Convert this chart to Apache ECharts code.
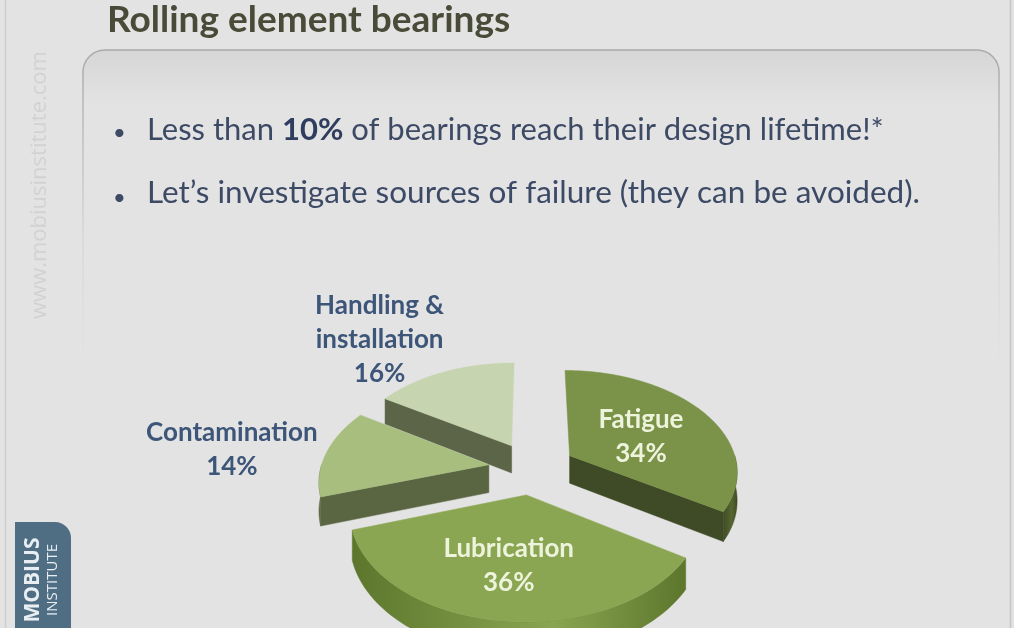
<!DOCTYPE html>
<html>
<head>
<meta charset="utf-8">
<script src="https://cdn.jsdelivr.net/npm/echarts@6/dist/echarts.min.js"></script>
<style>
html,body{margin:0;padding:0;background:#e3e3e3;}
#c{width:1014px;height:628px;}
</style>
</head>
<body>
<div id="c"></div>
<script>
// ---- data ----
const categories = ['Fatigue', 'Lubrication', 'Contamination', 'Handling &\ninstallation'];
const values = [34, 36, 14, 16];

// ---- geometry / style (not data) ----
const CX = 532, CY = 468, RX = 168, RY = 100.5, E = 0.142, H = 28, EXPLODE = 0.26;
const topColors  = ['#7b9349', '#8aa652', '#a7be7e', '#c6d4b0'];
const sideColors = ['#3f4b26', '#5c772c', '#5a6642', '#5c6548'];
const sideLight  = ['#56662f', '#8aa551', '#6b7850', '#6a7356'];

const total = values.reduce((a, b) => a + b, 0);
const cum = [];
values.reduce((acc, v, i) => { cum[i] = acc; return acc + v; }, 0);

function proj(X, Z, drop) {
  const p = 1 / (1 - E * Z);
  return [CX + RX * X * p, CY + (RY * Z + drop) * p];
}

function renderItem(params, api) {
  const i = params.dataIndex;
  const v = api.value(0);
  const a = cum[i] / total * Math.PI * 2;
  const b = (cum[i] + v) / total * Math.PI * 2;
  const m = (a + b) / 2;
  const ax = EXPLODE * Math.sin(m), az = -EXPLODE * Math.cos(m);
  const rim = (t, r) => [ax + (r == null ? 1 : r) * Math.sin(t), az - (r == null ? 1 : r) * Math.cos(t)];
  const depth = Math.round((az + 1) * 100) * 10;
  const children = [];

  // cut faces
  [[a, a - Math.PI / 2], [b, b + Math.PI / 2]].forEach(([t, n]) => {
    if (Math.cos(n) < -0.01) {
      const R = rim(t);
      const pts = [proj(ax, az, 0), proj(R[0], R[1], 0), proj(R[0], R[1], H), proj(ax, az, H)];
      children.push({ type: 'polygon', z2: depth + 1, shape: { points: pts },
        style: { fill: sideColors[i], stroke: sideColors[i], lineWidth: 0.5 } });
    }
  });

  // outer curved side
  const s = Math.max(a, Math.PI / 2), e = Math.min(b, Math.PI * 1.5);
  if (e > s) {
    const top = [], bot = [];
    const n = 60;
    for (let k = 0; k <= n; k++) {
      const t = s + (e - s) * k / n;
      const R = rim(t);
      top.push(proj(R[0], R[1], 0));
      bot.unshift(proj(R[0], R[1], H));
    }
    children.push({ type: 'polygon', z2: depth + 2, shape: { points: top.concat(bot) },
      style: {
        fill: new echarts.graphic.LinearGradient(0, 0, 1, 0, [
          { offset: 0, color: sideColors[i] },
          { offset: 0.6, color: sideLight[i] },
          { offset: 1, color: sideColors[i] }
        ]),
        stroke: sideColors[i], lineWidth: 0.5
      } });
  }

  // top face
  const tp = [proj(ax, az, 0)];
  const n2 = 90;
  for (let k = 0; k <= n2; k++) {
    const t = a + (b - a) * k / n2;
    const R = rim(t);
    tp.push(proj(R[0], R[1], 0));
  }
  children.push({ type: 'polygon', z2: depth + 3, shape: { points: tp },
    style: { fill: topColors[i], stroke: topColors[i], lineWidth: 0.5 } });

  // label
  const name = categories[i];
  const pct = Math.round(v / total * 100) + '%';
  if (v >= 20) {
    const L = rim(m, 0.55);
    const P = proj(L[0], L[1], 0);
    children.push({ type: 'text', z2: 5000, x: P[0] - 4, y: P[1] + 6,
      style: { text: name + '\n' + pct, fill: '#eef3dc', font: 'bold 26px Lato', align: 'center',
        verticalAlign: 'middle', lineHeight: 34 } });
  } else {
    const R = rim(m);
    const P = proj(R[0], R[1], 0);
    const dx = Math.sin(m) * RX, dy = -Math.cos(m) * RY;
    const len = Math.hypot(dx, dy);
    children.push({ type: 'text', z2: 5000, x: P[0] + dx / len * 95, y: P[1] + dy / len * 44,
      style: { text: name + '\n' + pct, fill: '#3c5578', font: 'bold 26px Lato', align: 'center',
        verticalAlign: 'middle', lineHeight: 34 } });
  }
  return { type: 'group', children };
}

const chart = echarts.init(document.getElementById('c'));
chart.setOption({
  backgroundColor: '#e3e3e3',
  animation: false,
  graphic: [
    { type: 'line', shape: { x1: 5.5, y1: 0, x2: 5.5, y2: 628 }, style: { stroke: '#cdcdcd', lineWidth: 1.5 } },
    { type: 'line', shape: { x1: 1010.5, y1: 0, x2: 1010.5, y2: 628 }, style: { stroke: '#c4c4c4', lineWidth: 1.5 } },
    { type: 'rect', shape: { x: 83, y: 50, width: 916, height: 640, r: 22 },
      style: {
        fill: new echarts.graphic.LinearGradient(0, 0, 0, 1, [
          { offset: 0, color: '#d6d6d6' }, { offset: 0.09, color: '#e3e3e3' }, { offset: 1, color: '#e3e3e3' }
        ]),
        stroke: new echarts.graphic.LinearGradient(0, 0, 0, 1, [
          { offset: 0, color: '#a9a9a9' }, { offset: 0.3, color: '#d8d8d8' }, { offset: 0.5, color: '#e3e3e3' }
        ]),
        lineWidth: 1.5
      } },
    { type: 'text', x: 107, y: 20, style: { text: 'Rolling element bearings', font: 'bold 37px Lato',
        fill: '#4a4a38', verticalAlign: 'middle' } },
    { type: 'text', x: 113, y: 133, style: { text: '•', font: '22px Lato', fill: '#3d4a66', verticalAlign: 'middle' } },
    { type: 'text', x: 113, y: 198, style: { text: '•', font: '22px Lato', fill: '#3d4a66', verticalAlign: 'middle' } },
    { type: 'text', x: 147, y: 130, style: {
        text: '{a|Less than }{b|10%}{a| of bearings reach their design lifetime!*}',
        verticalAlign: 'middle',
        rich: {
          a: { font: '31px Lato', fill: '#3d4a66' },
          b: { font: 'bold 31px Lato', fill: '#2f3d5e' }
        } } },
    { type: 'text', x: 147, y: 193, style: { text: 'Let\u2019s investigate sources of failure (they can be avoided).',
        font: '31.5px Lato', fill: '#3d4a66', verticalAlign: 'middle' } },
    { type: 'text', x: 40, y: 185, rotation: Math.PI / 2, style: { text: 'www.mobiusinstitute.com',
        font: '22px "Open Sans"', fill: '#d2d2d2', align: 'center', verticalAlign: 'middle' } },
    { type: 'rect', shape: { x: 15, y: 522, width: 56, height: 130, r: [0, 16, 0, 0] }, style: { fill: '#4f6e84' } },
    { type: 'text', x: 33, y: 580, rotation: Math.PI / 2, style: { text: 'MOBIUS', font: 'bold 21px "Open Sans"',
        fill: '#e8eef2', align: 'center', verticalAlign: 'middle' } },
    { type: 'text', x: 53, y: 580, rotation: Math.PI / 2, style: { text: 'INSTITUTE', font: '15px "Open Sans"',
        fill: '#e8eef2', align: 'center', verticalAlign: 'middle' } }
  ],
  series: [{
    type: 'custom',
    coordinateSystem: 'none',
    renderItem: renderItem,
    data: values.map((v, i) => ({ name: categories[i], value: [v] }))
  }]
});
</script>
</body>
</html>
